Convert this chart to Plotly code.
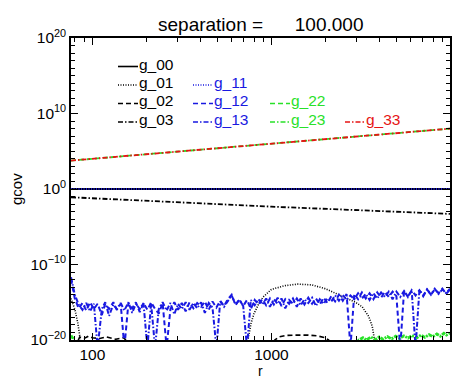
import plotly.graph_objects as go

# ---------------- data ----------------
# straight lines (log-log)
r_line = [76, 1000, 9950]
g00 = [1.0, 1.0, 1.0]
g11 = [1.0, 1.0, 1.0]
g03 = [0.08, 0.0046, 0.0005]
g22 = [5.8e3, 1.0e6, 9.9e7]
g33 = [5.8e3, 1.0e6, 9.9e7]

# g_01 (black dotted) : exponent of |value|
r_g01 = [76, 80, 83, 87, 700, 740, 770, 800, 850, 900, 1000, 1190, 1400, 1680,
         2000, 2280, 2600, 2950, 3215, 3500, 3660, 3770, 9950]
g01_exp = [-14.5, -16.0, -17.8, -21, -21, -20, -17.8, -16.5, -15.2, -14.3, -13.3, -12.8,
           -12.6, -12.7, -13.2, -13.8, -14.4, -15.0, -15.6, -16.9, -18.2, -20, -21]

# g_02 (black dashed)
r_g02 = [80, 85, 90, 95, 100, 110, 120, 135, 150, 165, 1000, 1045, 1100, 1200,
         1400, 1600, 1800, 2000, 2090, 2150]
g02_exp = [-21, -19.6, -19.8, -19.5, -19.7, -19.8, -19.6, -19.9, -19.7, -21, -21, -20,
           -19.6, -19.4, -19.35, -19.35, -19.45, -19.7, -20, -21]

# g_23 (green dash-dot)
r_g23 = [76, 78, 80, 3000, 3080, 3250, 3400, 3600, 3800, 4000, 4200, 4450, 4700, 4950,
         5200, 5500, 5800, 6100, 6500, 6850, 7200, 7600, 8000, 8400, 8800, 9200, 9500, 9950]
g23_exp = [-19.4, -19.8, -21, -21, -20, -19.7, -20.0, -19.6, -19.95, -19.6, -19.9, -19.55,
           -19.85, -19.5, -19.8, -19.45, -19.75, -19.4, -19.7, -19.35, -19.65, -19.3, -19.55,
           -19.2, -19.5, -19.1, -19.35, -19.05]

# noisy band: g_12 (blue dashed) and g_13 (blue dash-dot)
r_noise = [76, 79.8, 83.8, 88.1, 92.5, 97.2, 102, 107, 113, 118,
           124, 131, 137, 144, 151, 159, 167, 175, 184, 193,
           203, 213, 224, 235, 247, 260, 273, 287, 301, 316,
           332, 349, 367, 385, 405, 425, 447, 469, 493, 518,
           544, 571, 600, 631, 662, 696, 731, 768, 807, 847,
           890, 935, 982, 1032, 1084, 1139, 1196, 1257, 1320, 1387,
           1457, 1530, 1608, 1689, 1774, 1864, 1958, 2057, 2161, 2270,
           2385, 2505, 2632, 2765, 2904, 3051, 3205, 3367, 3537, 3716,
           3903, 4101, 4308, 4525, 4754, 4994, 5246, 5511, 5790, 6082,
           6389, 6712, 7051, 7407, 7781, 8174, 8587, 9021, 9476, 9950]
g13_exp = [-11.7, -14.0, -15.3, -16.0, -15.1, -16.2, -15.2, -21, -15.9, -15.0,
           -16.8, -15.3, -15.9, -15.1, -16.1, -15.0, -16.4, -15.2, -15.9, -15.1,
           -21, -15.2, -21, -15.9, -15.0, -16.1, -15.1, -16.6, -15.2, -15.9,
           -15.0, -16.0, -15.1, -15.8, -15.0, -16.4, -15.1, -15.7, -21, -14.9,
           -15.6, -14.8, -14.1, -15.3, -14.7, -15.5, -21, -14.7, -15.4, -14.6,
           -15.3, -14.5, -15.6, -14.6, -15.2, -14.5, -15.8, -14.7, -15.2, -14.5,
           -15.4, -14.6, -15.1, -14.4, -15.5, -14.6, -15.2, -14.5, -14.9, -14.1,
           -14.8, -14.0, -14.7, -14.1, -14.6, -13.8, -14.5, -13.9, -14.7, -13.8,
           -14.5, -13.7, -14.3, -13.6, -14.6, -13.6, -14.3, -13.5, -14.2, -13.5,
           -21, -13.4, -14.1, -13.3, -14.0, -13.2, -13.9, -13.3, -13.8, -13.2]
g12_exp = [-11.9, -14.5, -15.8, -15.1, -16.1, -15.0, -15.9, -15.2, -16.7, -15.2,
           -15.9, -15.0, -16.0, -15.2, -21, -15.1, -15.8, -15.0, -16.3, -15.1,
           -16.0, -15.0, -15.9, -16.5, -15.1, -21, -15.9, -15.0, -16.0, -15.1,
           -16.2, -15.0, -15.8, -15.1, -15.6, -14.9, -16.0, -14.9, -15.7, -14.8,
           -15.5, -14.6, -14.0, -15.4, -14.6, -15.5, -14.7, -15.9, -14.7, -15.3,
           -14.6, -15.4, -14.5, -15.3, -14.4, -15.5, -14.6, -15.2, -14.5, -15.6,
           -14.5, -15.3, -14.4, -15.2, -14.5, -15.3, -14.4, -15.1, -14.2, -14.9,
           -14.0, -14.8, -13.9, -21, -13.9, -14.6, -13.7, -14.5, -13.8, -14.6,
           -13.7, -14.4, -13.6, -14.3, -13.6, -14.2, -21, -13.5, -14.3, -13.4,
           -14.1, -13.4, -14.2, -13.3, -14.0, -13.3, -13.8, -13.2, -13.9, -13.3]

# legend entries: name, row, column, colour key, dash key
leg_names = ["g_00", "g_01", "g_02", "g_03", "g_11", "g_12", "g_13", "g_22", "g_23", "g_33"]
leg_rows = [0, 1, 2, 3, 1, 2, 3, 2, 3, 3]
leg_cols = [0, 0, 0, 0, 1, 1, 1, 2, 2, 3]
leg_col = ["k", "k", "k", "k", "b", "b", "b", "g", "g", "r"]
leg_dash = ["solid", "dot", "dash", "dashdot", "dot", "dash", "dashdot", "dash", "dashdot", "dashdot"]

y_ticks = [1e-20, 1e-10, 1, 1e10, 1e20]
y_ticktext = ["10<sup>\u221220</sup>", "10<sup>\u221210</sup>", "10<sup>0</sup>",
              "10<sup>10</sup>", "10<sup>20</sup>"]
x_ticks = [100, 1000]
x_ticktext = ["100", "1000"]

# ---------------- styles ----------------
COL = {"k": "#000000", "b": "rgb(25,25,225)", "g": "rgb(40,225,40)", "r": "rgb(230,20,20)"}
DASH = {"solid": "solid", "dot": "1px,1.5px", "dash": "5px,3px", "dashdot": "5px,2px,1.5px,2px",
        "dense": "4px,1px,2px,1px"}
LW = 1.6
FONT = "Liberation Sans, Arial, Helvetica, sans-serif"

fig = go.Figure()


def add(x, y, c, d, w=LW):
    fig.add_trace(go.Scatter(x=x, y=y, mode="lines", showlegend=False, hoverinfo="skip",
                             line=dict(color=COL[c], dash=DASH[d], width=w)))


add(r_g02, [10 ** v for v in g02_exp], "k", "dash")
add(r_g01, [10 ** v for v in g01_exp], "k", "dot")
add(r_g23, [10 ** v for v in g23_exp], "g", "dense", 2.8)
add(r_noise, [10 ** v for v in g12_exp], "b", "dash", 2.0)
add(r_noise, [10 ** v for v in g13_exp], "b", "dashdot", 2.0)
add(r_line, g03, "k", "dashdot", 1.8)
add(r_line, g00, "k", "solid", 1.8)
add(r_line, g11, "b", "dot", 1.8)
add(r_line, g22, "g", "dash", 1.8)
add(r_line, g33, "r", "dashdot", 1.8)

# ---------------- layout ----------------
# the page body has an 8px margin, so the figure is drawn 8px right/down of the window corner
OFF = 8
VW, VH = 474, 379
W, H = VW - OFF, VH - OFF
# plot area in window pixels (as measured on the reference)
L, R, T, B = 71, 450, 38, 340
pw, ph = R - L, B - T


def px(x):
    return (x - L) / pw


def py(y):
    return (B - y) / ph


row_y = [64, 82.5, 101, 119.5]
col_x = [118, 193, 270, 345]
seg = 20

shapes = []
annotations = []
for name, rw, cl, c, d in zip(leg_names, leg_rows, leg_cols, leg_col, leg_dash):
    x0 = col_x[cl]
    yy = row_y[rw] + 2.5
    shapes.append(dict(type="line", xref="paper", yref="paper",
                       x0=px(x0), x1=px(x0 + seg), y0=py(yy), y1=py(yy),
                       line=dict(color=COL[c], dash=DASH[d], width=LW)))
    annotations.append(dict(text=name, xref="paper", yref="paper", x=px(x0 + seg - 1), y=py(row_y[rw]),
                            xanchor="left", yanchor="middle", showarrow=False,
                            font=dict(family=FONT, size=15.5, color=COL[c])))

annotations.append(dict(text="gcov", xref="paper", yref="paper", x=px(16), y=py(189),
                        textangle=-90, xanchor="center", yanchor="middle", showarrow=False,
                        font=dict(family=FONT, size=15, color="black")))
annotations.append(dict(text="r", xref="paper", yref="paper", x=px(260), y=py(371),
                        xanchor="center", yanchor="middle", showarrow=False,
                        font=dict(family=FONT, size=14, color="black")))
annotations.append(dict(text="separation =\u00a0\u00a0\u00a0\u00a0\u00a0\u00a0100.000",
                        xref="paper", yref="paper", x=px(260), y=py(25),
                        xanchor="center", yanchor="middle", showarrow=False,
                        font=dict(family=FONT, size=19, color="black")))

x_minor = [80, 90, 200, 300, 400, 500, 600, 700, 800, 900,
           2000, 3000, 4000, 5000, 6000, 7000, 8000, 9000]
y_minor = [10.0 ** k for k in range(-19, 20) if k % 10 != 0]

axis_common = dict(showgrid=False, zeroline=False, showline=True, linecolor="black", linewidth=1.6,
                   mirror="allticks", ticks="inside", ticklen=7, tickwidth=1.3, tickcolor="black",
                   tickfont=dict(family=FONT, size=15.5, color="black"))

fig.update_layout(
    width=W, height=H, autosize=False,
    margin=dict(l=L - OFF, r=VW - R, t=T - OFF, b=VH - B, pad=0),
    paper_bgcolor="white", plot_bgcolor="white",
    shapes=shapes, annotations=annotations,
    xaxis=dict(type="log", range=[1.8808, 3.9978], tickmode="array", tickvals=x_ticks,
               ticktext=x_ticktext,
               minor=dict(tickmode="array", tickvals=x_minor, ticks="inside", ticklen=4,
                          tickwidth=1, tickcolor="black"),
               **axis_common),
    yaxis=dict(type="log", range=[-20, 20], tickmode="array", tickvals=y_ticks, ticktext=y_ticktext,
               minor=dict(tickmode="array", tickvals=y_minor, ticks="inside", ticklen=4,
                          tickwidth=1, tickcolor="black"),
               **axis_common),
)

fig.write_html("out.html")
